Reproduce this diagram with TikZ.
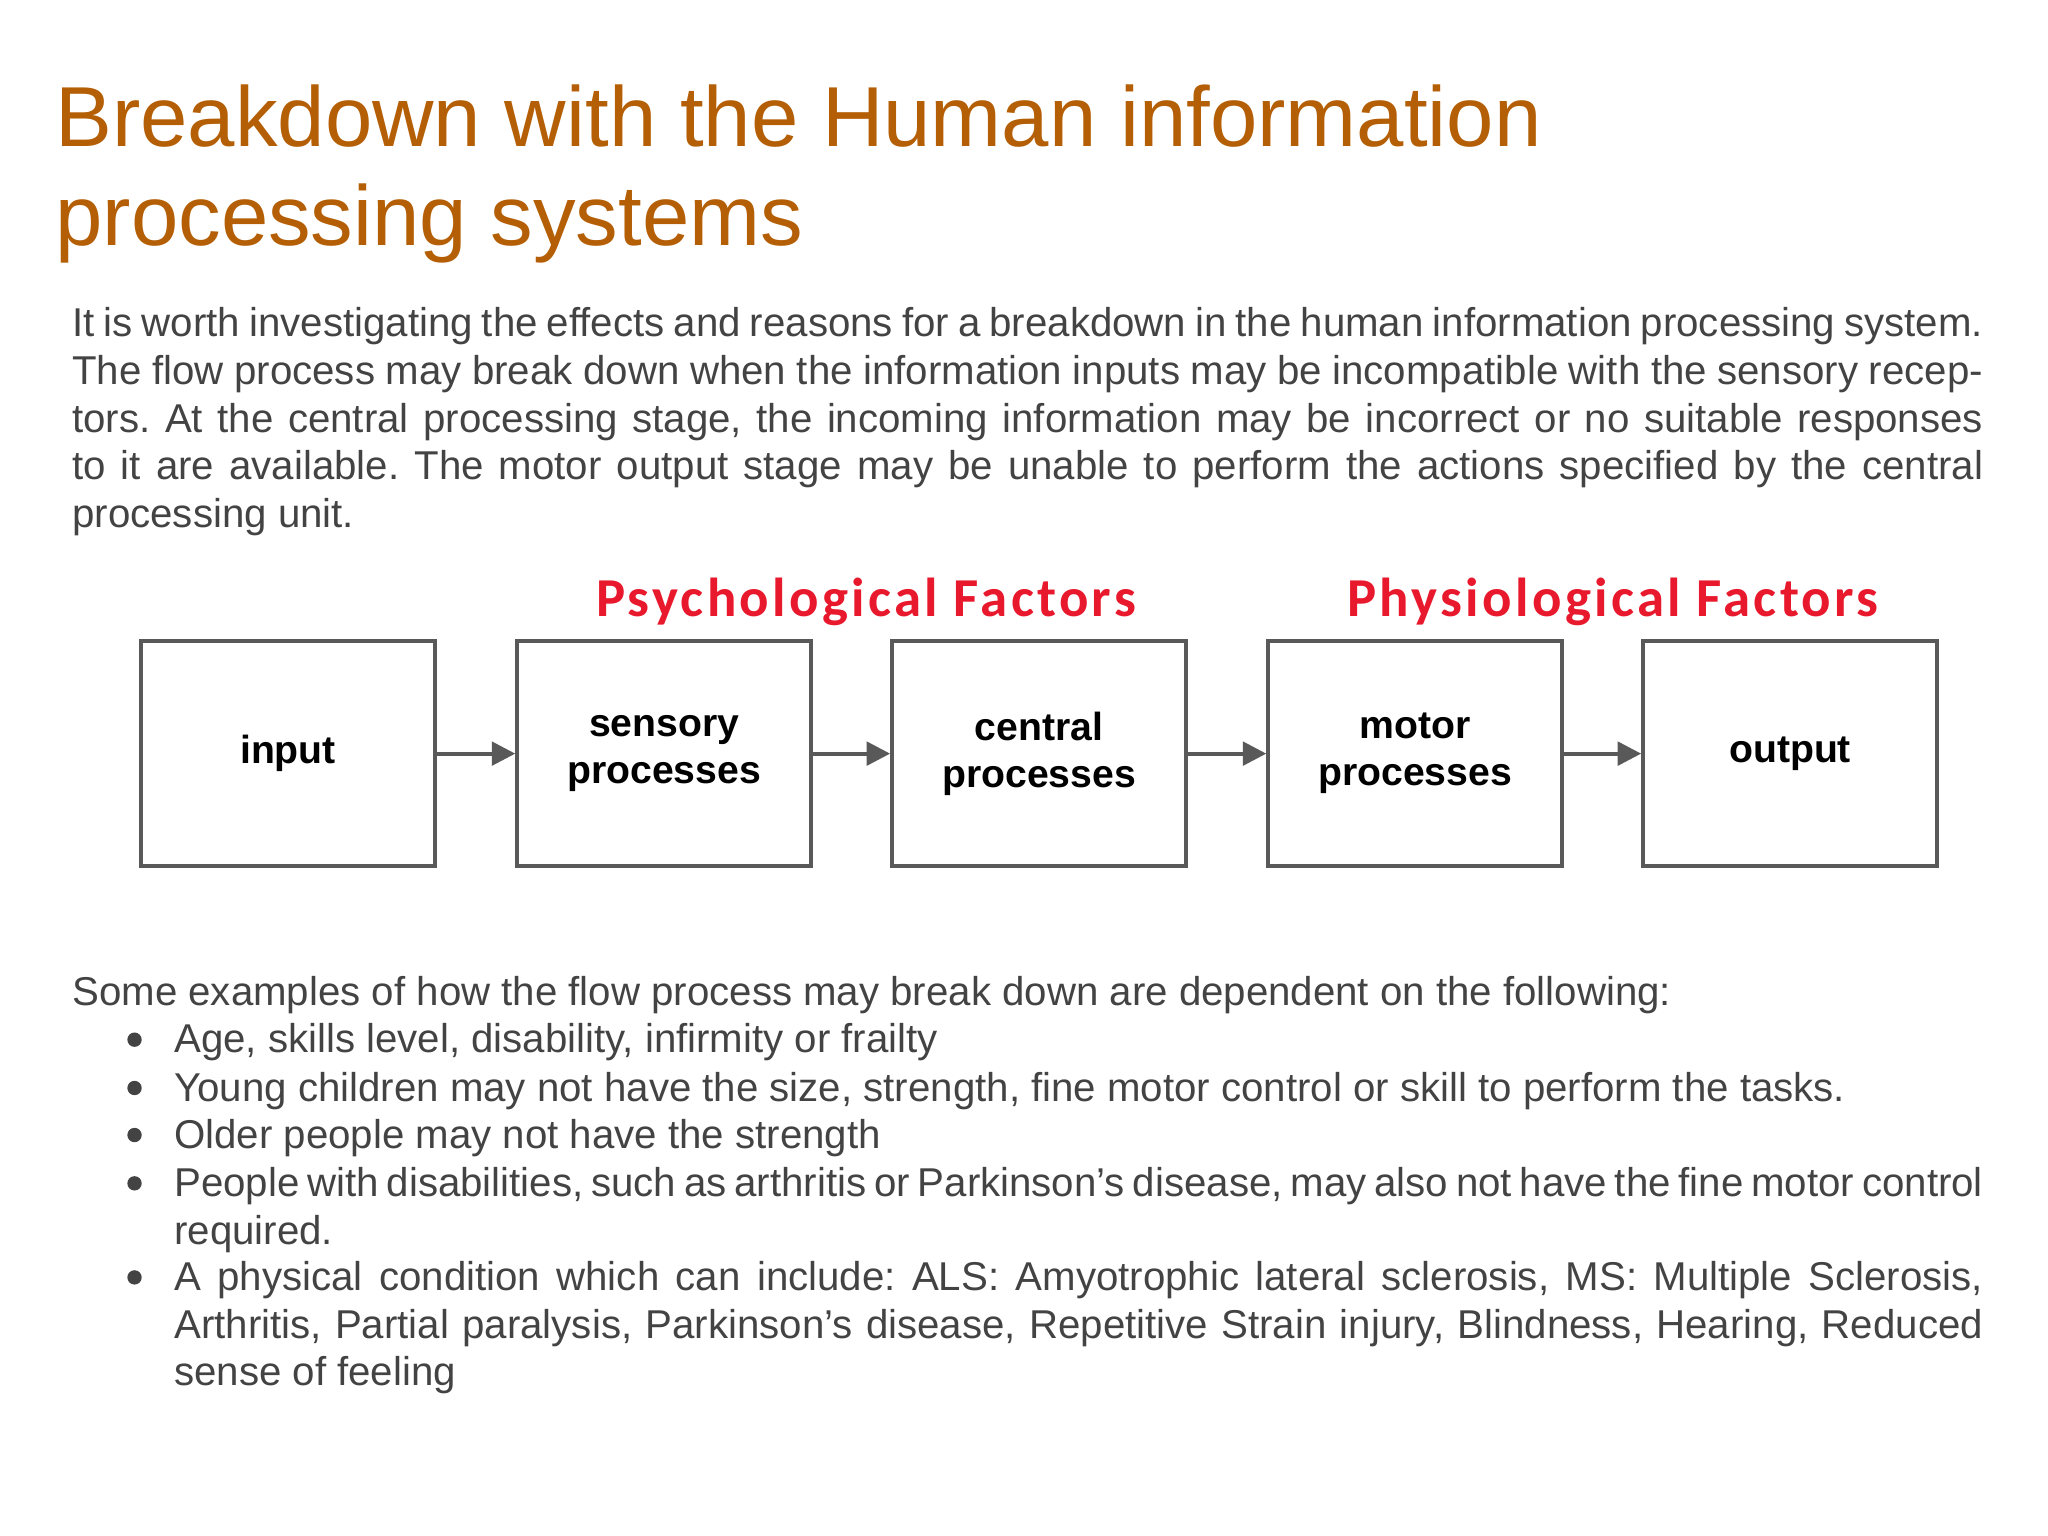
\documentclass[tikz,border=0pt]{standalone}
\usepackage{fontspec}
\setmainfont{Liberation Sans}
\newfontfamily\carl[LetterSpace=6]{Carlito}
\usetikzlibrary{arrows.meta}
\definecolor{titlec}{HTML}{B45F06}
\definecolor{bodyc}{HTML}{434343}
\definecolor{redc}{HTML}{E8192C}
\definecolor{boxc}{HTML}{595959}
\tikzset{
 pbox/.style={draw=boxc,line width=1.5pt,minimum width=112.5pt,minimum height=86pt,inner sep=0pt,align=center,font=\fontsize{15}{18}\selectfont\bfseries,text=black},
 arr/.style={draw=boxc,line width=1.5pt,-{Triangle[length=9pt,width=9pt]}},
 body/.style={anchor=north west,inner sep=0pt,align=justify,text=bodyc,font=\frenchspacing\fontsize{15.4}{18.25}\selectfont},
 fac/.style={text=redc,font=\carl\fontsize{21}{22}\selectfont\bfseries,anchor=base},
 dot/.style={circle,fill=bodyc,inner sep=0pt,minimum size=5.5pt}
}
\begin{document}
\begin{tikzpicture}[x=0.5pt,y=-0.5pt]
\useasboundingbox (0,0) rectangle (1568,1176);
\node[anchor=base west,inner sep=0pt,text=titlec,align=left,font=\fontsize{32.6}{38}\selectfont] (title) at (42,112) {Breakdown with the Human information};
\node[anchor=base west,inner sep=0pt,text=titlec,font=\fontsize{32.6}{38}\selectfont] (title2) at (42,188) {processing systems};
\node[body,text width=731.5pt,anchor=base west] (para) at (55,258) {It is worth investigating the effects and reasons for a breakdown in the human information processing system. The flow process may break down when the information inputs may be incompatible with the sensory receptors. At the central processing stage, the incoming information may be incorrect or no suitable responses to it are available. The motor output stage may be unable to perform the actions specified by the central processing unit.};
\node[fac] (psy) at (663,472) {Psychological Factors};
\node[fac] (phy) at (1235,472) {Physiological Factors};
\node[pbox] (in) at (220.5,577) {input};
\node[pbox] (sen) at (508.5,577) {sensory\\processes};
\node[pbox] (cen) at (795.5,577) {central\\processes};
\node[pbox] (mot) at (1083.5,577) {motor\\processes};
\node[pbox] (out) at (1370.5,577) {output};
\draw[arr] (in) -- (sen);
\draw[arr] (sen) -- (cen);
\draw[arr] (cen) -- (mot);
\draw[arr] (mot) -- (out);
\node[body,anchor=base west,align=left] (intro) at (55,770) {Some examples of how the flow process may break down are dependent on the following:};
\foreach \y/\t [count=\i] in {806/{Age, skills level, disability, infirmity or frailty},
 843/{Young children may not have the size, strength, fine motor control or skill to perform the tasks.},
 879/{Older people may not have the strength},
 916/{People with disabilities, such as arthritis or Parkinson's disease, may also not have the fine motor control required.},
 988/{A physical condition which can include: ALS: Amyotrophic lateral sclerosis, MS: Multiple Sclerosis, Arthritis, Partial paralysis, Parkinson’s disease, Repetitive Strain injury, Blindness, Hearing, Reduced sense of feeling}}{
 \node[dot] (b\i) at (103,\y-10) {};
 \node[body,text width=692.5pt,anchor=base west] (t\i) at (133,\y) {\t};
}
\end{tikzpicture}
\end{document}
